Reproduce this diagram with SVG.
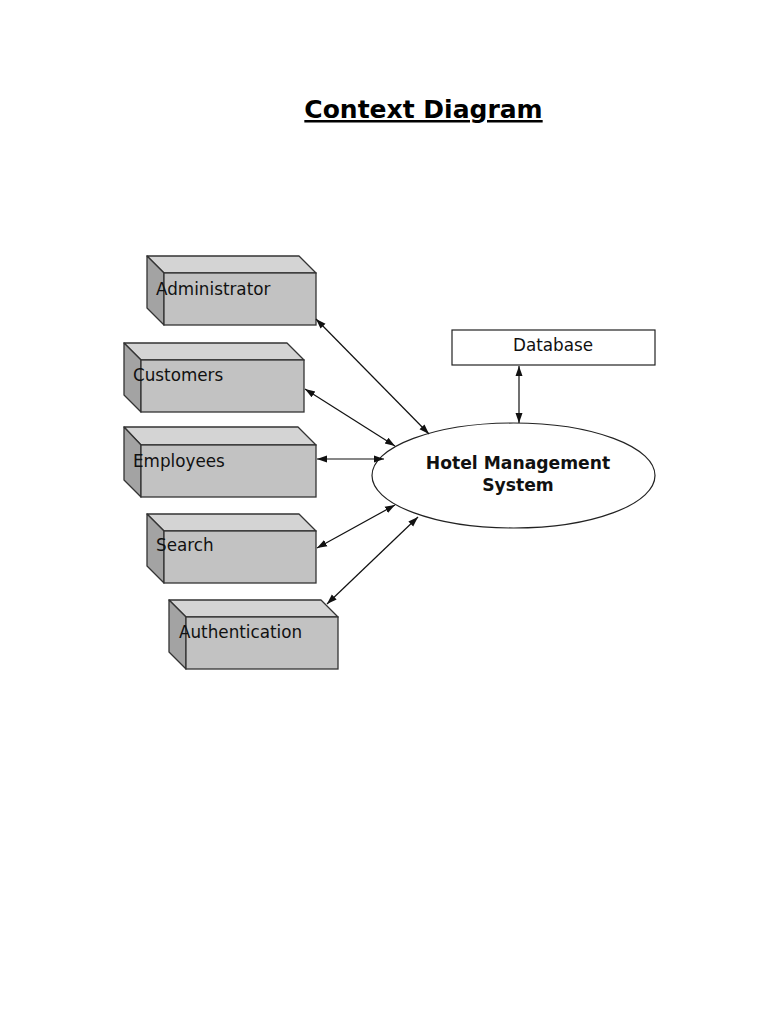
<svg xmlns="http://www.w3.org/2000/svg" width="768" height="1024" viewBox="0 0 768 1024">
<style>
.top{fill:#d4d4d4;stroke:#333;stroke-width:1.3;stroke-linejoin:round}
.side{fill:#a3a3a3;stroke:#333;stroke-width:1.3;stroke-linejoin:round}
.front{fill:#c2c2c2;stroke:#333;stroke-width:1.3}
.lbl{font-family:"DejaVu Sans",Verdana,sans-serif;font-size:16.8px;fill:#111}
.conn{stroke:#111;stroke-width:1.2;fill:none;marker-start:url(#ah);marker-end:url(#ah)}
</style>
<defs>
<marker id="ah" viewBox="0 0 10 10" refX="10" refY="5" markerWidth="10" markerHeight="10" markerUnits="userSpaceOnUse" orient="auto-start-reverse">
<path d="M0,1.5 L10,5 L0,8.5 Z" fill="#111"/>
</marker>
</defs>
<rect width="768" height="1024" fill="#fff"/>
<text x="423.5" y="118" text-anchor="middle" font-family="DejaVu Sans,Verdana,sans-serif" font-weight="bold" font-size="25" text-decoration="underline" fill="#000">Context Diagram</text>

<g id="administrator">
<polygon class="top" points="147,256 299,256 316,273 164,273"/>
<polygon class="side" points="147,256 164,273 164,325 147,308"/>
<rect class="front" x="164" y="273" width="152" height="52"/>
<text class="lbl" x="156" y="295">Administrator</text>
</g>
<g id="customers">
<polygon class="top" points="124,343 287,343 304,360 141,360"/>
<polygon class="side" points="124,343 141,360 141,412 124,395"/>
<rect class="front" x="141" y="360" width="163" height="52"/>
<text class="lbl" x="133" y="381">Customers</text>
</g>
<g id="employees">
<polygon class="top" points="124,427 298,427 316,445 141,445"/>
<polygon class="side" points="124,427 141,445 141,497 124,480"/>
<rect class="front" x="141" y="445" width="175" height="52"/>
<text class="lbl" x="133" y="467">Employees</text>
</g>
<g id="search">
<polygon class="top" points="147,514 299,514 316,531 164,531"/>
<polygon class="side" points="147,514 164,531 164,583 147,566"/>
<rect class="front" x="164" y="531" width="152" height="52"/>
<text class="lbl" x="156" y="551">Search</text>
</g>
<g id="authentication">
<polygon class="top" points="169,600 321,600 338,617 186,617"/>
<polygon class="side" points="169,600 186,617 186,669 169,652"/>
<rect class="front" x="186" y="617" width="152" height="52"/>
<text class="lbl" x="179" y="638">Authentication</text>
</g>
<g id="database">
<rect x="452" y="330" width="203" height="35" fill="#fff" stroke="#222" stroke-width="1.2"/>
<text class="lbl" x="553" y="351" text-anchor="middle" font-size="16">Database</text>
</g>
<g id="hms">
<ellipse cx="513.5" cy="475.5" rx="141.5" ry="52.5" fill="#fff" stroke="#222" stroke-width="1.2"/>
<text x="518" y="469" text-anchor="middle" font-family="DejaVu Sans,Verdana,sans-serif" font-weight="bold" font-size="17.2" fill="#111">Hotel Management</text>
<text x="518" y="491" text-anchor="middle" font-family="DejaVu Sans,Verdana,sans-serif" font-weight="bold" font-size="17.2" fill="#111">System</text>
</g>
<g id="connectors">
<line class="conn" x1="316" y1="319" x2="429" y2="434"/>
<line class="conn" x1="305" y1="389" x2="395" y2="446"/>
<line class="conn" x1="317" y1="459" x2="384" y2="459"/>
<line class="conn" x1="317" y1="548" x2="395" y2="505"/>
<line class="conn" x1="327" y1="604" x2="418" y2="517"/>
<line class="conn" x1="519" y1="366" x2="519" y2="423"/>
</g>
</svg>
